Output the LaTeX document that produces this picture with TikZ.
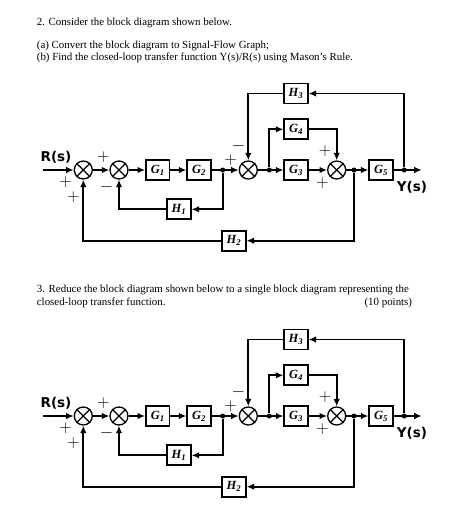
\documentclass[tikz,border=0pt]{standalone}
\usepackage{fontspec}
\setmainfont{Liberation Serif}
\newfontfamily\lblfont{DejaVu Sans}
\usetikzlibrary{shapes.geometric, arrows, arrows.meta}
\tikzstyle{block} =[rectangle, draw=black, line width=1.7pt, minimum width=23.5pt, minimum height=20pt, inner sep=0pt, font=\bfseries\itshape\fontsize{12.5}{12.5}\selectfont]
\tikzstyle{sum} =[circle, draw=black, line width=1.3pt, minimum size=18pt, inner sep=0pt]
\tikzstyle{dot} =[circle, fill=black, minimum size=5pt, inner sep=0pt]
\tikzstyle{sign} =[inner sep=0pt, font=\fontsize{16}{16}\selectfont]
\tikzstyle{siglabel} =[inner sep=0pt, font=\lblfont\bfseries\fontsize{13.5}{13.5}\selectfont]
\tikzstyle{question} =[anchor=base west, inner sep=0pt, font=\fontsize{10.9}{12}\selectfont]
\tikzstyle{arrow} =[line width=1.8pt, ->, >={Latex[length=7.5pt,width=6.5pt]}]

\begin{document}
\begin{tikzpicture}[x=1pt, y=-1pt]
\useasboundingbox (0,0) rectangle (474,523);
\node (q2) [question] at (36.7,25) {2. Consider the block diagram shown below.};
\node (q2a) [question] at (36.7,48.3) {(a) Convert the block diagram to Signal-Flow Graph;};
\node (q2b) [question] at (36.7,60) {(b) Find the closed-loop transfer function Y(s)/R(s) using Mason's Rule.};
\node (q3) [question] at (36.7,292.3) {3. Reduce the block diagram shown below to a single block diagram representing the};
\node (q3b) [question] at (36.7,305.7) {closed-loop transfer function.};
\node (pts) [question, anchor=base east] at (412.3,305.7) {(10 points)};

\foreach \pre/\dy in {a/0, b/246} {
\begin{scope}[shift={(0,\dy)}, name prefix=\pre-]
\coordinate (in) at (43,170);
\coordinate (out) at (421.7,170);
\node (s1) [sum] at (83.3,170) {};
\node (s2) [sum] at (119,170) {};
\node (G1) [block] at (157.7,170) {G\textsubscript{1}};
\node (G2) [block] at (199,170) {G\textsubscript{2}};
\node (d1) [dot] at (222.7,170) {};
\node (s3) [sum] at (248.3,170) {};
\node (d2) [dot] at (269.3,170) {};
\node (G3) [block] at (296,170) {G\textsubscript{3}};
\node (G4) [block] at (296,129.3) {G\textsubscript{4}};
\node (H3) [block] at (296,93.5) {H\textsubscript{3}};
\node (s4) [sum] at (336.7,170) {};
\node (d3) [dot] at (354,170) {};
\node (G5) [block] at (381,170) {G\textsubscript{5}};
\node (d4) [dot] at (404.3,170) {};
\node (H1) [block] at (179,209.3) {H\textsubscript{1}};
\node (H2) [block] at (234,240.7) {H\textsubscript{2}};
\node (R) [siglabel] at (56,157) {R(s)};
\node (Y) [siglabel] at (412,187) {Y(s)};
% signs at the summing points
\node (p1) [sign] at (65.7,181.7) {$+$};
\node (p2) [sign] at (73.3,196.7) {$+$};
\node (p3) [sign] at (103.3,157.3) {$+$};
\node (m1) [sign] at (106.7,186.7) {$-$};
\node (p4) [sign] at (230.7,160) {$+$};
\node (m2) [sign] at (238.3,146) {$-$};
\node (p5) [sign] at (325,150.7) {$+$};
\node (p6) [sign] at (322.3,182.7) {$+$};
\foreach \s in {s1,s2,s3,s4}
  \draw [line width=1.3pt] (\s.north west)--(\s.south east) (\s.north east)--(\s.south west);

\draw [arrow] (in)--(s1);
\draw [arrow] (s1)--(s2);
\draw [arrow] (s2)--(G1);
\draw [arrow] (G1)--(G2);
\draw [arrow] (G2)--(s3);
\draw [arrow] (d1)|-(H1);
\draw [arrow] (H1)-|(s2);
\draw [arrow] (s3)--(G3);
\draw [arrow] (d2)|-(G4);
\draw [arrow] (G4)-|(s4);
\draw [arrow] (G3)--(s4);
\draw [arrow] (s4)--(G5);
\draw [arrow] (G5)--(out);
\draw [arrow] (d4)|-(H3);
\draw [arrow] (H3)-|(s3);
\draw [arrow] (d3)|-(H2);
\draw [arrow] (H2)-|(s1);
\end{scope}
}
\end{tikzpicture}
\end{document}
